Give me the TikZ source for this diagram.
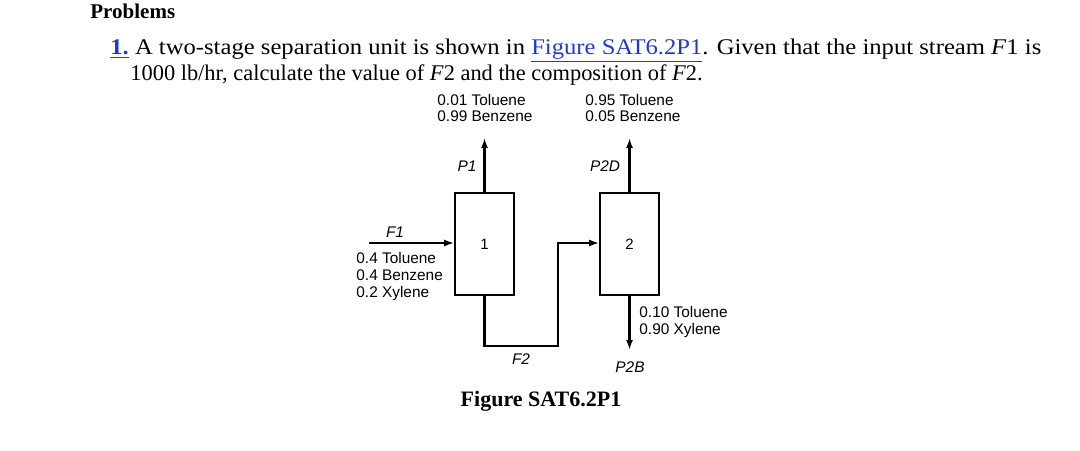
\documentclass[tikz,border=0pt]{standalone}
\usepackage{fontspec}
\setmainfont{Liberation Serif}
\setsansfont{Liberation Sans}
\usetikzlibrary{arrows.meta}
\definecolor{linkblue}{RGB}{30,60,200}
\begin{document}
\begin{tikzpicture}[x=0.5pt,y=-0.5pt,
  unit/.style={draw,line width=0.8pt,minimum width=29.5pt,minimum height=51pt,inner sep=0pt,font=\sffamily\fontsize{7.5}{8}\selectfont},
  stream/.style={line width=1.3pt,-{Latex[length=5pt,width=3.5pt]}},
  lbl/.style={font=\sffamily\fontsize{7.7}{8.4}\selectfont,inner sep=0pt,align=left},
  ilbl/.style={font=\sffamily\itshape\fontsize{7.7}{8}\selectfont,inner sep=0pt},
  txt/.style={font=\fontsize{11.2}{12}\selectfont,inner sep=0pt,anchor=base west}]
\useasboundingbox (0,0) rectangle (1080,450);
\node[anchor=base west,inner sep=0pt,font=\bfseries\fontsize{10.5}{11}\selectfont] (prob) at (90,18) {Problems};
\node[txt] (l1) at (110,54) {\scalebox{1.1}[1]{\textcolor{linkblue}{\underline{\textbf{1.}}} A two-stage separation unit is shown in \textcolor{linkblue}{\underline{Figure SAT6.2P1}}. Given that the input stream \textit{F}1 is}};
\node[txt] (l2) at (130,80) {1000 lb/hr, calculate the value of \textit{F}2 and the composition of \textit{F}2.};
\node[unit] (u1) at (484.5,244) {1};
\node[unit] (u2) at (629.5,244) {2};
\coordinate (p1end) at (484.5,138);
\coordinate (p2end) at (629.5,138);
\coordinate (f1start) at (369,243);
\coordinate (p2bend) at (629.5,350);
\coordinate (c1) at (484.5,346);
\coordinate (c2) at (558,346);
\coordinate (c3) at (558,243);
\draw[stream] (u1.north) -- (p1end);
\draw[stream] (u2.north) -- (p2end);
\draw[stream] (f1start) -- (u1.west |- f1start);
\draw[stream] (u1.south) -- (c1) -- (c2) -- (c3) -- (u2.west |- c3);
\draw[stream] (u2.south) -- (p2bend);
\node[lbl,anchor=west] (t1) at (437,108) {0.01 Toluene\\0.99 Benzene};
\node[lbl,anchor=west] (t2) at (585,108) {0.95 Toluene\\0.05 Benzene};
\node[ilbl] (lp1) at (467,166) {P1};
\node[ilbl] (lp2) at (605,166) {P2D};
\node[ilbl] (lf1) at (395,232) {F1};
\node[lbl,anchor=north west] (tf1) at (356,252) {0.4 Toluene\\0.4 Benzene\\0.2 Xylene};
\node[lbl,anchor=west] (tb) at (639,322) {0.10 Toluene\\0.90 Xylene};
\node[ilbl] (lf2) at (521,359) {F2};
\node[ilbl] (lp2b) at (630,367) {P2B};
\node[font=\bfseries\fontsize{11}{12}\selectfont,inner sep=0pt] (cap) at (541,401) {Figure SAT6.2P1};
\end{tikzpicture}
\end{document}
